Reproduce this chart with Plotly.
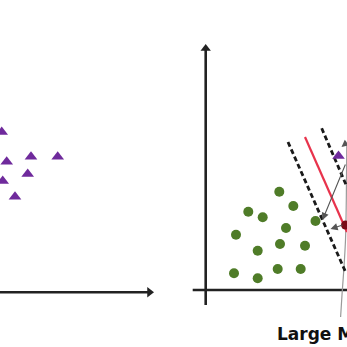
import plotly.graph_objects as go

# Diagram coordinates (x to the right, y downward)
class_a_x = [1.7, 6.7, 31.0, 57.7, 27.7, 2.7, 15.0, 338.5]
class_a_y = [132.0, 161.7, 156.7, 156.7, 174.0, 181.0, 196.7, 156.0]

class_b_x = [279.3, 248.3, 262.7, 293.3, 315.5, 286.0, 236.0, 280.0, 257.7, 305.0, 234.0, 257.7, 277.7, 300.7]
class_b_y = [191.7, 211.7, 217.3, 206.0, 221.0, 228.0, 234.7, 244.0, 250.7, 245.7, 273.3, 278.3, 269.0, 269.0]

support_x = [345.5]
support_y = [225.0]

# Separating hyperplane and margin boundaries
hyper_x = [305.0, 347.0]
hyper_y = [137.0, 232.0]
margin_lo_x = [288.0, 346.0]
margin_lo_y = [142.0, 273.0]
margin_hi_x = [321.7, 347.0]
margin_hi_y = [128.3, 187.0]

# Callout line to the label
callout_x = [346.8, 346.3, 345.5, 343.8, 342.0, 340.6]
callout_y = [143.0, 200.0, 240.0, 270.0, 295.0, 317.0]

# Distance arrows: (tail x, tail y, head x, head y)
arrows = [
    (347.0, 142.5, 341.5, 147.0),
    (346.0, 163.0, 322.5, 220.0),
    (344.0, 224.5, 330.5, 229.0),
]

AXIS = "#222222"

fig = go.Figure()

# Left panel: horizontal axis
fig.add_trace(go.Scatter(x=[0, 148], y=[292.3, 292.3], mode="lines",
                         line=dict(color=AXIS, width=2.6), hoverinfo="skip"))
fig.add_trace(go.Scatter(x=[149.5], y=[292.3], mode="markers",
                         marker=dict(symbol="triangle-right", size=9, color=AXIS), hoverinfo="skip"))

# Right panel: axes
fig.add_trace(go.Scatter(x=[205.7, 205.7], y=[305, 50], mode="lines",
                         line=dict(color=AXIS, width=2.6), hoverinfo="skip"))
fig.add_trace(go.Scatter(x=[205.7], y=[48.5], mode="markers",
                         marker=dict(symbol="triangle-up", size=9, color=AXIS), hoverinfo="skip"))
fig.add_trace(go.Scatter(x=[192.7, 347], y=[290, 290], mode="lines",
                         line=dict(color=AXIS, width=2.6), hoverinfo="skip"))

# Callout line
fig.add_trace(go.Scatter(x=callout_x, y=callout_y, mode="lines", line_shape="spline",
                         line=dict(color="#9a9a9a", width=1.2), hoverinfo="skip"))

# Margin boundaries and hyperplane
fig.add_trace(go.Scatter(x=margin_lo_x, y=margin_lo_y, mode="lines",
                         line=dict(color="#1a1a1a", width=2.8, dash="5px,3px"), hoverinfo="skip"))
fig.add_trace(go.Scatter(x=margin_hi_x, y=margin_hi_y, mode="lines",
                         line=dict(color="#1a1a1a", width=2.8, dash="5px,3px"), hoverinfo="skip"))
fig.add_trace(go.Scatter(x=hyper_x, y=hyper_y, mode="lines",
                         line=dict(color="#e8334c", width=2.2), hoverinfo="skip"))

# Data points
fig.add_trace(go.Scatter(x=class_a_x, y=class_a_y, mode="markers",
                         marker=dict(symbol="triangle-up", size=11, color="#6f2a9c"), hoverinfo="skip"))
fig.add_trace(go.Scatter(x=class_b_x, y=class_b_y, mode="markers",
                         marker=dict(symbol="circle", size=10, color="#4f7c28"), hoverinfo="skip"))
fig.add_trace(go.Scatter(x=support_x, y=support_y, mode="markers",
                         marker=dict(symbol="circle", size=9, color="#7a0b16"), hoverinfo="skip"))

for tx, ty, hx, hy in arrows:
    fig.add_annotation(x=hx, y=hy, ax=tx, ay=ty, xref="x", yref="y", axref="x", ayref="y",
                       showarrow=True, arrowhead=2, arrowsize=1.3, arrowwidth=1.1,
                       arrowcolor="#555555", text="")

fig.add_annotation(x=275, y=333.5, xref="x", yref="y", text="<b>Large Margin</b>",
                   showarrow=False, xanchor="left", yanchor="middle",
                   font=dict(family="DejaVu Sans", size=17, color="#111111"))

fig.update_layout(
    width=347, height=347, margin=dict(l=0, r=0, t=0, b=0),
    paper_bgcolor="white", plot_bgcolor="white", showlegend=False,
    xaxis=dict(range=[0, 347], visible=False, fixedrange=True),
    yaxis=dict(range=[347, 0], visible=False, fixedrange=True),
)

fig.write_html("out.html")
